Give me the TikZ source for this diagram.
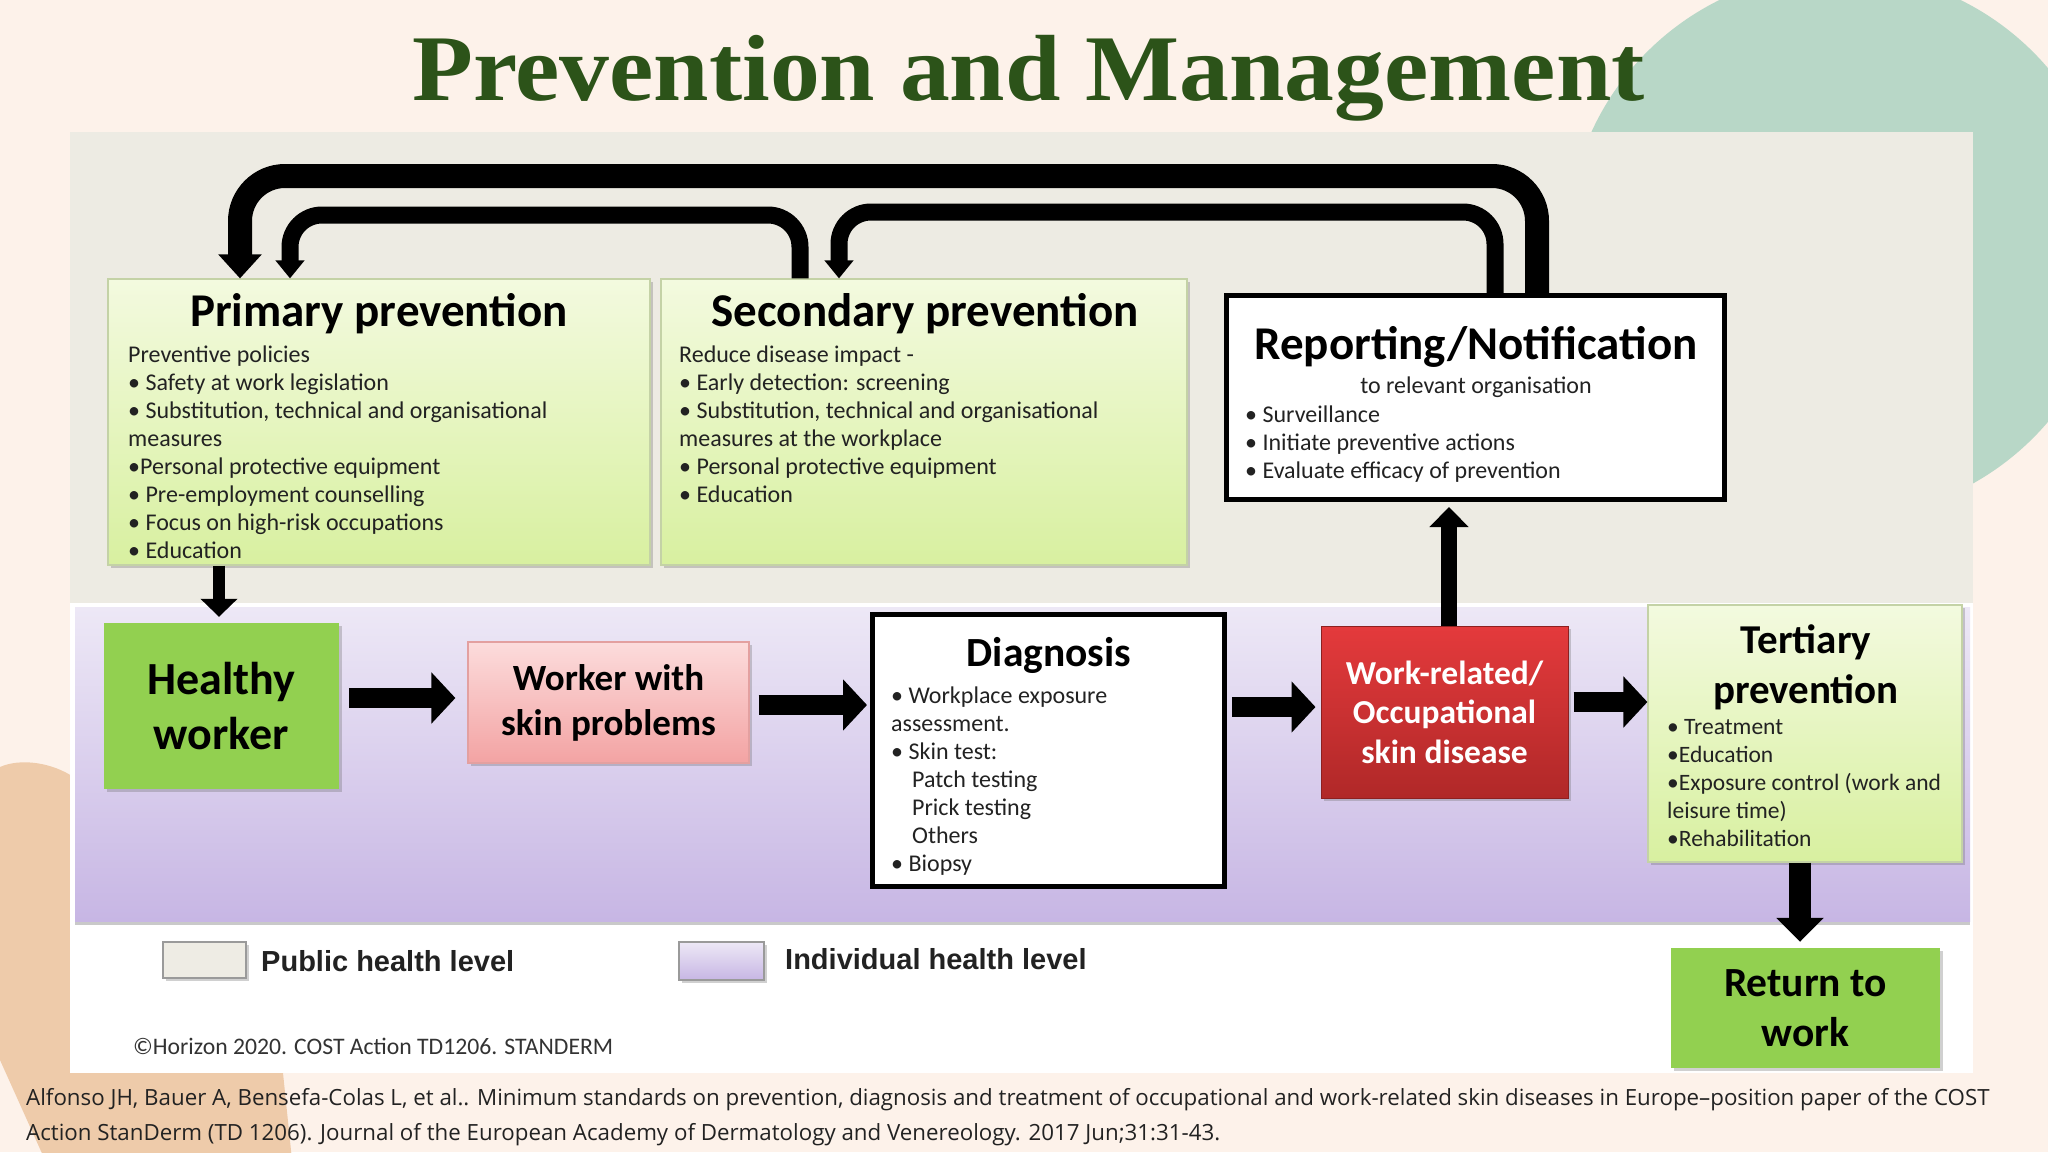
\documentclass[tikz,border=0pt]{standalone}
\usepackage{fontspec}
\setmainfont{Carlito}
\newfontfamily\titlefont{Liberation Serif}
\newfontfamily\legfont{Liberation Sans}
\newfontfamily\citefont{Open Sans}
\usetikzlibrary{arrows.meta,shadows}
\definecolor{bgcream}{HTML}{FDF2EA}
\definecolor{teal}{HTML}{B8D7C7}
\definecolor{peach}{HTML}{EECBAA}
\definecolor{beige}{HTML}{EDEBE3}
\definecolor{lavtop}{HTML}{EDE8F6}
\definecolor{lavbot}{HTML}{C7B6E4}
\definecolor{gtop}{HTML}{F3FADF}
\definecolor{gbot}{HTML}{D8F0A0}
\definecolor{gbord}{HTML}{C4D2A6}
\definecolor{hgreen}{HTML}{92D050}
\definecolor{pinktop}{HTML}{FCDCDC}
\definecolor{pinkbot}{HTML}{F3A3A3}
\definecolor{pinkbord}{HTML}{E3A0A0}
\definecolor{redtop}{HTML}{E43A3C}
\definecolor{redbot}{HTML}{B02828}
\definecolor{titlegreen}{HTML}{2C5319}
\definecolor{txt}{HTML}{222222}
\definecolor{legbord}{HTML}{9A9A9A}
\definecolor{pubfill}{HTML}{EEECE4}
\definecolor{copyc}{HTML}{333333}
\definecolor{citec}{HTML}{222222}
\newcommand\mybul{\textbullet}
\tikzset{
  shad/.style={drop shadow={shadow xshift=3pt,shadow yshift=-3pt,opacity=0.3,fill=black!60}},
  greenbox/.style={draw=gbord, line width=1.2pt, top color=gtop, bottom color=gbot, shad, inner sep=0pt},
  blackbox/.style={draw=black, line width=5pt, fill=white, inner sep=0pt},
  plainbox/.style={fill=hgreen, shad, inner sep=0pt, align=center, text=black},
  pinkbox/.style={draw=pinkbord, line width=1.2pt, top color=pinktop, bottom color=pinkbot, shad, inner sep=0pt, align=center},
  redbox/.style={draw=redbot!80!black, line width=1pt, top color=redtop, bottom color=redbot, shad, inner sep=0pt, align=center, text=white},
  ttl/.style={font=\bfseries\fontsize{47}{55}\selectfont, anchor=base, inner sep=0pt, text=black},
  body/.style={font=\fontsize{24}{28}\selectfont, text=txt, align=left, anchor=north west, inner sep=0pt},
  blk/.style={line width=20pt, -{Triangle[length=24pt,width=50pt]}},
  vblka/.style={line width=12pt, -{Triangle[length=18pt,width=36pt]}},
  vblkb/.style={line width=16pt, -{Triangle[length=20pt,width=38pt]}},
  vblkc/.style={line width=22pt, -{Triangle[length=24pt,width=46pt]}},
  fbo/.style={line width=24pt, rounded corners=45pt, -{Triangle[length=24pt,width=42pt]}},
  fbi/.style={line width=17pt, rounded corners=32pt, -{Triangle[length=18pt,width=28pt]}},
}
\begin{document}
\begin{tikzpicture}[x=1pt,y=-1pt]
\useasboundingbox (0,0) rectangle (2048,1152);
% background
\fill[bgcream] (0,0) rectangle (2048,1152);
\fill[teal] (1840,245) circle (273);
\fill[peach] (0,767) .. controls (20,758) and (52,762) .. (75,778) -- (283,1073) -- (292,1160) -- (45,1160) -- (0,1060) -- cycle;
% panel
\fill[white] (70,132) rectangle (1973,1073);
\fill[beige] (70,132) rectangle (1973,603);
\fill[top color=lavtop, bottom color=lavbot, drop shadow={shadow xshift=0pt,shadow yshift=-4pt,opacity=0.35,fill=black!60}] (75,607) rectangle (1970,921);

% title
\node[anchor=base west, inner sep=0pt, text=titlegreen, font=\titlefont\bfseries\fontsize{94}{100}\selectfont] (title) at (412,100) {\scalebox{1.06}[1]{Prevention and Management}};

% primary prevention
\node[greenbox, minimum width=542pt, minimum height=286pt] (prim) at (379,422) {};
\node[ttl] (primt) at (379,326) {Primary prevention};
\node[body] (primb) at (128,346) {Preventive policies\\
\mybul\ Safety at work legislation\\
\mybul\ Substitution, technical and organisational\\
measures\\
\mybul Personal protective equipment\\
\mybul\ Pre-employment counselling\\
\mybul\ Focus on high-risk occupations\\
\mybul\ Education};

% secondary prevention
\node[greenbox, minimum width=526pt, minimum height=286pt] (sec) at (924,422) {};
\node[ttl] (sect) at (925,326) {Secondary prevention};
\node[body] (secb) at (679,346) {Reduce disease impact -\\
\mybul\ Early detection: screening\\
\mybul\ Substitution, technical and organisational\\
measures at the workplace\\
\mybul\ Personal protective equipment\\
\mybul\ Education};

% reporting
\node[blackbox, minimum width=498pt, minimum height=204pt] (rep) at (1475.5,397.5) {};
\node[ttl] (rept) at (1476,359) {Reporting/Notification};
\node[body, anchor=base] (repsub) at (1476,393) {to relevant organisation};
\node[body] (repb) at (1245,406) {\mybul\ Surveillance\\
\mybul\ Initiate preventive actions\\
\mybul\ Evaluate efficacy of prevention};

% individual level boxes
\node[plainbox, minimum width=235pt, minimum height=166pt, font=\bfseries\fontsize{46}{55}\selectfont] (healthy) at (221.5,706) {Healthy\\worker};
\node[pinkbox, minimum width=281pt, minimum height=121pt, font=\bfseries\fontsize{37}{45}\selectfont] (worker) at (608.5,702.5) {Worker with\\skin problems};
\node[blackbox, minimum width=352pt, minimum height=272pt] (diag) at (1048.5,750.5) {};
\node[ttl, font=\bfseries\fontsize{41.5}{50}\selectfont] (diagt) at (1049,666) {Diagnosis};
\node[body] (diagb) at (891,687) {\mybul\ Workplace exposure\\
assessment.\\
\mybul\ Skin test:\\
\hspace*{21pt}Patch testing\\
\hspace*{21pt}Prick testing\\
\hspace*{21pt}Others\\
\mybul\ Biopsy};
\node[redbox, minimum width=247pt, minimum height=172pt, font=\bfseries\fontsize{33.5}{39.5}\selectfont] (red) at (1444.5,712) {Work-related/\\Occupational\\skin disease};
\node[greenbox, minimum width=314pt, minimum height=257pt] (tert) at (1805,733.5) {};
\node[font=\bfseries\fontsize{41}{50}\selectfont, align=center, inner sep=0pt] (tertt) at (1806,667) {Tertiary\\prevention};
\node[body, font=\fontsize{23.5}{28}\selectfont] (tertb) at (1667,719) {\mybul\ Treatment\\
\mybul Education\\
\mybul Exposure control (work and\\
leisure time)\\
\mybul Rehabilitation};
\node[plainbox, minimum width=269pt, minimum height=120pt, font=\bfseries\fontsize{41.5}{50}\selectfont] (ret) at (1805.5,1008) {Return to\\work};

% connectors
\coordinate (a1) at (0,698);
\coordinate (a2) at (0,705);
\coordinate (a3) at (0,707);
\coordinate (a4) at (0,702);
\draw[blk, shorten <=10pt, shorten >=12pt] (healthy.east |- a1) -- (worker.west |- a1);
\draw[blk, shorten <=9pt, shorten >=3pt] (worker.east |- a2) -- (diag.west |- a2);
\draw[blk, shorten <=5pt, shorten >=5pt] (diag.east |- a3) -- (red.west |- a3);
\draw[blk, shorten <=5pt] (red.east |- a4) -- (tert.west |- a4);
\coordinate (v1x) at (219,0);
\coordinate (v2x) at (1449,0);
\coordinate (v3x) at (1800,0);
\draw[vblka, shorten >=6pt] (v1x |- prim.south) -- (v1x |- healthy.north);
\draw[vblkb, shorten >=5pt] (v2x |- red.north) -- (v2x |- rep.south);
\draw[vblkc, shorten >=6pt] (v3x |- tert.south) -- (v3x |- ret.north);

% feedback arrows
\coordinate (oR) at (1537,0);
\coordinate (oL) at (240,0);
\coordinate (iaR) at (800,0);
\coordinate (iaL) at (290,0);
\coordinate (ibR) at (1495,0);
\coordinate (ibL) at (839,0);
\draw[fbo] (oR |- rep.north) -- (1537,176) -- (240,176) -- (oL |- prim.north);
\draw[fbi] (iaR |- sec.north) -- (800,215) -- (290,215) -- (iaL |- prim.north);
\draw[fbi] (ibR |- rep.north) -- (1495,212) -- (839,212) -- (ibL |- sec.north);

% legend
\node[draw=legbord, line width=2pt, fill=pubfill, minimum width=83pt, minimum height=36pt, inner sep=0pt, shad] (legpub) at (204.5,960) {};
\node[font=\legfont\bfseries\fontsize{29}{34}\selectfont, text=txt, anchor=west, inner sep=0pt] (legpubt) at (261,961) {Public health level};
\node[draw=legbord, line width=2pt, top color=lavtop, bottom color=lavbot, minimum width=85pt, minimum height=38pt, inner sep=0pt, shad] (legind) at (721.5,961) {};
\node[font=\legfont\bfseries\fontsize{29}{34}\selectfont, text=txt, anchor=west, inner sep=0pt] (legindt) at (785,959) {Individual health level};
\node[font=\fontsize{23.7}{28}\selectfont, text=copyc, anchor=base west, inner sep=0pt] (copy) at (133,1054) {©Horizon 2020. COST Action TD1206. STANDERM};

% citation
\node[font=\citefont\fontsize{22.3}{35}\selectfont, text=citec, align=left, anchor=north west, inner sep=0pt] (cite) at (26,1088) {Alfonso JH, Bauer A, Bensefa-Colas L, et al.. Minimum standards on prevention, diagnosis and treatment of occupational and work-related skin diseases in Europe–position paper of the COST\\
Action StanDerm (TD 1206). Journal of the European Academy of Dermatology and Venereology. 2017 Jun;31:31-43.};
\end{tikzpicture}
\end{document}
